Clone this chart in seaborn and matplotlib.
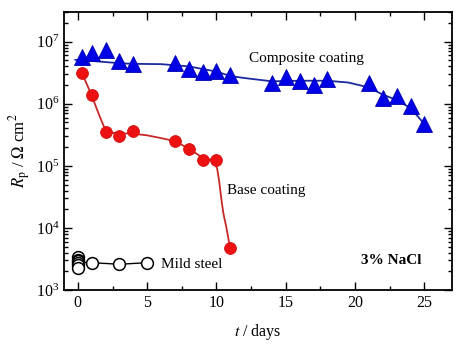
import matplotlib
matplotlib.use("Agg")
import matplotlib.pyplot as plt
from matplotlib.ticker import LogLocator, MultipleLocator, NullFormatter
import seaborn as sns

# measured points
comp_t = [0.3, 1, 2, 3, 4, 7, 8, 9, 10, 11, 14, 15, 16, 17, 18, 21, 22, 23, 24, 25]
comp_rp = [5.7e6, 6.5e6, 7.4e6, 4.9e6, 4.4e6, 4.5e6, 3.7e6, 3.3e6, 3.4e6, 2.9e6,
           2.2e6, 2.7e6, 2.35e6, 2.0e6, 2.5e6, 2.2e6, 1.23e6, 1.32e6, 9.3e5, 4.7e5]

base_t = [0.3, 1, 2, 3, 4, 7, 8, 9, 10, 11]
base_rp = [3.1e6, 1.36e6, 3.5e5, 3.0e5, 3.7e5, 2.5e5, 1.87e5, 1.25e5, 1.25e5, 4.8e3]

steel_t = [0, 0, 0, 0, 0, 0, 1, 3, 5]
steel_rp = [3.35e3, 3.1e3, 2.9e3, 2.7e3, 2.5e3, 2.3e3, 2.76e3, 2.6e3, 2.76e3]

# fitted guide curves
comp_fit_t = [-0.2, 1, 2, 3, 4, 6, 8, 10, 11, 12, 14, 16, 18, 19.5, 20.5, 21.5, 22, 23, 24, 25]
comp_fit_rp = [5.1e6, 4.9e6, 4.7e6, 4.5e6, 4.4e6, 4.35e6, 4.0e6, 3.3e6, 2.8e6, 2.6e6,
               2.3e6, 2.35e6, 2.35e6, 2.2e6, 1.95e6, 1.6e6, 1.4e6, 1.15e6, 8.5e5, 4.7e5]

base_fit_t = [0.3, 1, 1.5, 2, 2.5, 3, 4, 5, 6, 7, 8, 9, 9.5, 9.85, 10.05, 10.2,
              10.35, 10.5, 10.7, 10.9, 11]
base_fit_rp = [3.1e6, 1.36e6, 6.9e5, 3.7e5, 3.4e5, 3.35e5, 3.3e5, 3.1e5, 2.8e5, 2.5e5,
               1.9e5, 1.35e5, 1.28e5, 1.15e5, 9.0e4, 5.5e4, 2.9e4, 1.7e4, 1.05e4,
               6.0e3, 4.8e3]

steel_line_t = [0, 1, 3, 5]
steel_line_rp = [2.8e3, 2.76e3, 2.6e3, 2.76e3]

sns.set_theme(style="ticks")
plt.rcParams['font.family'] = ['Liberation Serif', 'DejaVu Serif']
plt.rcParams['mathtext.fontset'] = 'stix'
plt.rcParams['text.color'] = 'black'
plt.rcParams['axes.labelcolor'] = 'black'

fig = plt.figure(figsize=(4.74, 3.55), dpi=100)
ax = fig.add_axes([0.135, 0.183, 0.819, 0.783])

blue_line = '#1c2a9e'
red_line = '#c82828'

sns.lineplot(x=comp_fit_t, y=comp_fit_rp, ax=ax, color=blue_line, lw=1.3,
             sort=False, estimator=None)
sns.lineplot(x=base_fit_t, y=base_fit_rp, ax=ax, color=red_line, lw=1.3,
             sort=False, estimator=None)
sns.lineplot(x=steel_line_t, y=steel_line_rp, ax=ax, color='black', lw=1.0,
             sort=False, estimator=None)

ax.plot(comp_t, comp_rp, ls='none', marker='^', ms=11.5, color='#0000e6',
        mec='#0000b0', mew=0.6)
ax.plot(base_t, base_rp, ls='none', marker='o', ms=8.5, color='#ee1111',
        mec='#d01010', mew=0.6)
ax.plot(steel_t, steel_rp, ls='none', marker='o', ms=8.5, mfc='white',
        mec='black', mew=1.1)

ax.set_yscale('log')
ax.set_xlim(-1, 27)
ax.set_ylim(1e3, 3e7)

ax.xaxis.set_major_locator(MultipleLocator(5))
ax.xaxis.set_minor_locator(MultipleLocator(2.5))
ax.yaxis.set_major_locator(LogLocator(base=10, numticks=10))
ax.yaxis.set_minor_locator(LogLocator(base=10, subs=range(2, 10), numticks=20))
ax.yaxis.set_minor_formatter(NullFormatter())

ax.tick_params(which='both', direction='in', top=True, right=True,
               colors='black', labelsize=11.5, width=1.0)
ax.tick_params(which='major', length=6)
ax.tick_params(which='minor', length=3)
for sp in ax.spines.values():
    sp.set_linewidth(1.3)
    sp.set_color('black')

ax.set_xlabel(r'$t$ / days', fontsize=11.5, labelpad=8)
ax.set_ylabel(r'$R_\mathrm{p}$ / $\Omega$ cm$^2$', fontsize=12, labelpad=2)

ax.text(16.5, 5.3e6, 'Composite coating', fontsize=11, ha='center', va='center')
ax.text(10.76, 4.0e4, 'Base coating', fontsize=11, ha='left', va='center')
ax.text(6.0, 2.6e3, 'Mild steel', fontsize=11, ha='left', va='center')
ax.text(24.75, 3.0e3, '3% NaCl', fontsize=11, fontweight='bold', ha='right', va='center')

fig.savefig('out.png', dpi=100)
